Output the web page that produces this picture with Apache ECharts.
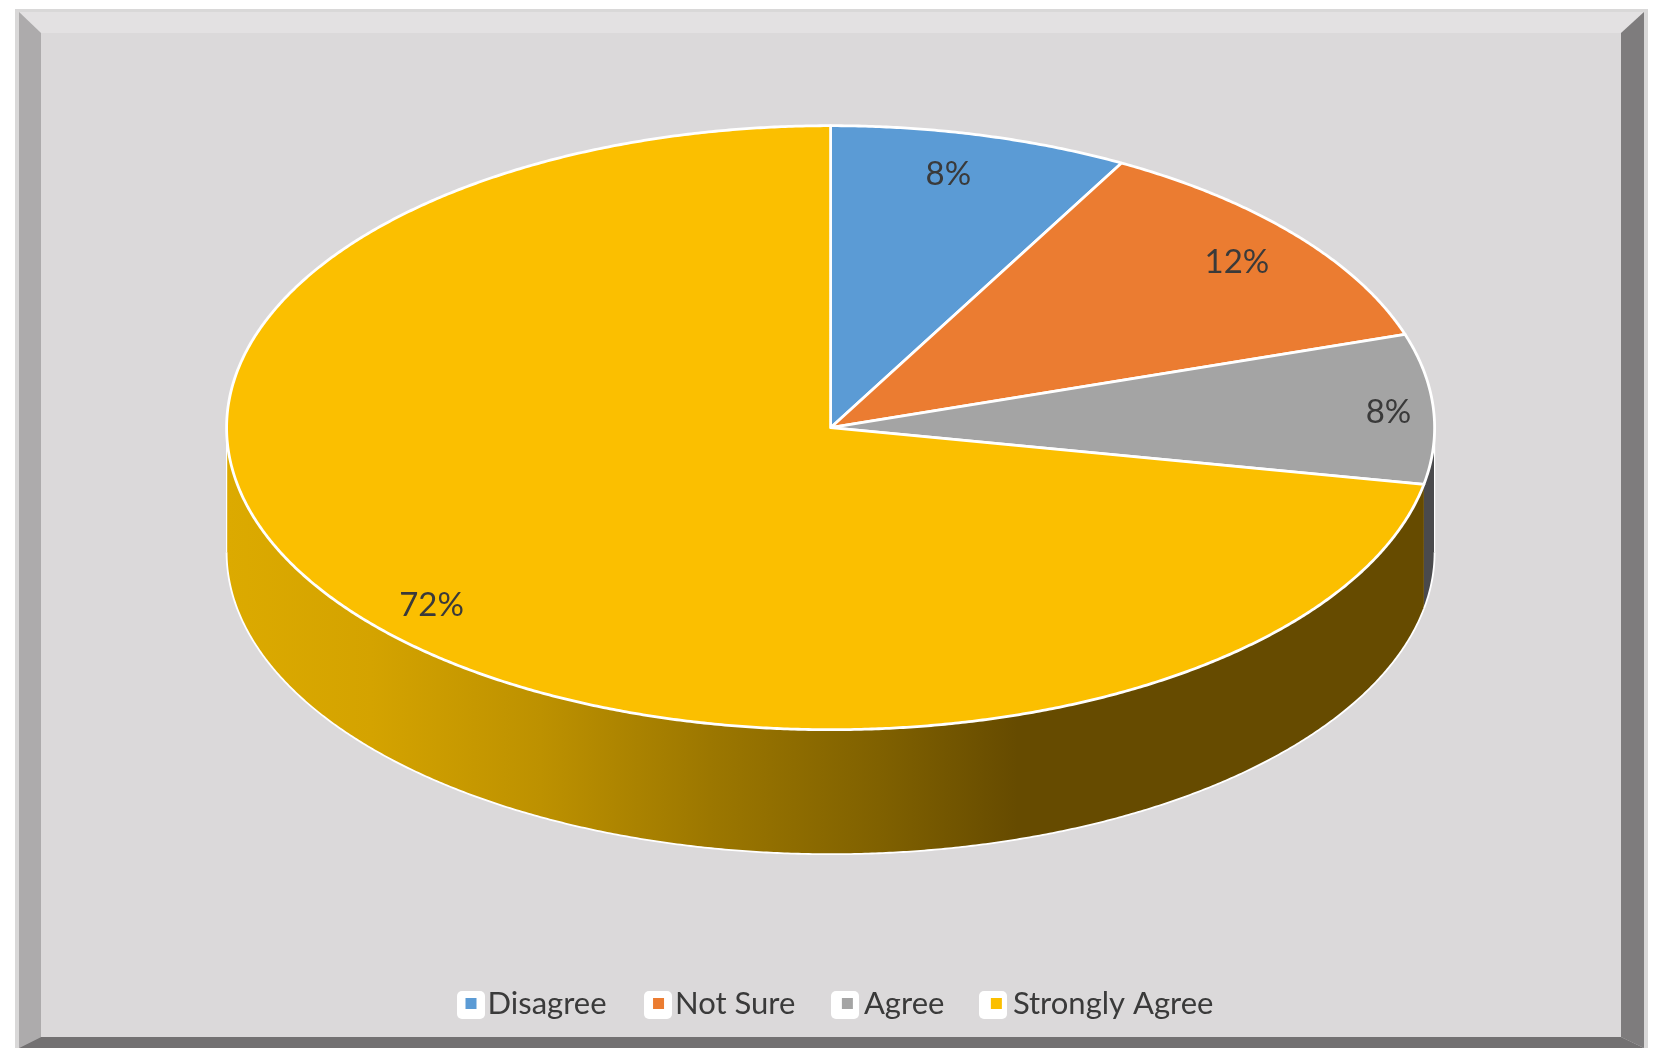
<!DOCTYPE html>
<html>
<head>
<meta charset="utf-8">
<style>html,body{margin:0;padding:0;background:#fff;overflow:hidden}#c{width:1654px;height:1048px}</style>
<script src="https://cdn.jsdelivr.net/npm/echarts@6/dist/echarts.min.js"></script>
</head>
<body>
<div id="c"></div>
<script>
const categories = ['Disagree', 'Not Sure', 'Agree', 'Strongly Agree'];
const shares = [8, 12, 8, 72];
const colours = ['#5b9bd5', '#eb7c31', '#a4a4a4', '#fbbf00'];

// Layout of the tilted pie, separate from the data
const CX = 830.6, CY = 427.7, RX = 604, RY = 302, DEPTH = 124.5;
const labelRadius = [0.86, 0.868, 0.925, 0.885];
const labelTurn = [-1.3, 0.4, 0.4, -2.1];
const wallShade = ['#dcaa00', '#4a4a4c', '#4a4a4c', '#dcaa00'];
const swatchLeft = [457, 644, 831, 979];
const total = shares.reduce((a, b) => a + b, 0);
const starts = shares.map((_, i) => shares.slice(0, i).reduce((a, b) => a + b, 0) / total * 360);

const pt = (deg, dy) => {
  const t = deg * Math.PI / 180;
  return [CX + RX * Math.sin(t), CY - RY * Math.cos(t) + (dy || 0)];
};
const arc = (a, b, dy) => {
  const n = Math.max(2, Math.ceil((b - a) * 3));
  const out = [];
  for (let i = 0; i <= n; i++) out.push(pt(a + (b - a) * i / n, dy));
  return out;
};
const yellowWall = new echarts.graphic.LinearGradient(227, 0, 1434, 0, [
  {offset: 0, color: '#dcaa00'},
  {offset: 0.12, color: '#d4a300'},
  {offset: 0.26, color: '#bd9100'},
  {offset: 0.40, color: '#9c7700'},
  {offset: 0.54, color: '#806100'},
  {offset: 0.655, color: '#664b00'},
  {offset: 1, color: '#664b00'}
], true);

function renderSlice(params, api) {
  const i = params.seriesIndex;
  const value = api.value(0);
  const a = starts[i], b = a + value / total * 360;
  const children = [];
  const wa = Math.max(a, 90), wb = Math.min(b, 270);
  if (wb > wa) {
    const top = arc(wa, wb, 0), bottom = arc(wa, wb, DEPTH).reverse();
    children.push({
      type: 'polygon', z2: 1,
      shape: {points: top.concat(bottom)},
      style: {fill: i === 3 ? yellowWall : wallShade[i], stroke: 'none'}
    });
    children.push({
      type: 'polyline', z2: 2,
      shape: {points: arc(wa, wb, DEPTH)},
      style: {fill: 'none', stroke: '#ffffff', lineWidth: 1.8}
    });
    if (a <= 270 && b >= 270) {
      children.push({
        type: 'polyline', z2: 2,
        shape: {points: [pt(270, 0), pt(270, DEPTH)]},
        style: {fill: 'none', stroke: '#ffffff', lineWidth: 1.2}
      });
    }
    if (a < 90 && b > 90) {
      children.push({
        type: 'polyline', z2: 2,
        shape: {points: [pt(90, 0), pt(90, DEPTH)]},
        style: {fill: 'none', stroke: '#ffffff', lineWidth: 1.2}
      });
    }
  }
  children.push({
    type: 'polygon', z2: 3,
    shape: {points: [[CX, CY]].concat(arc(a, b, 0))},
    style: {fill: colours[i], stroke: '#ffffff', lineWidth: 2.8, lineJoin: 'round'}
  });
  const mid = (a + b) / 2 + labelTurn[i];
  const t = mid * Math.PI / 180;
  children.push({
    type: 'text', z2: 5,
    style: {
      x: CX + RX * labelRadius[i] * Math.sin(t),
      y: CY - RY * labelRadius[i] * Math.cos(t),
      text: value + '%',
      fill: '#3a3a3a',
      font: '33px Lato, "Open Sans", sans-serif',
      align: 'center', verticalAlign: 'middle'
    }
  });
  return {type: 'group', children};
}

const bevel = (points, fill) => ({type: 'polygon', silent: true, shape: {points}, style: {fill}});
const chart = echarts.init(document.getElementById('c'), null, {renderer: 'canvas'});
chart.setOption({
  animation: false,
  backgroundColor: '#ffffff',
  graphic: {elements: [
    {type: 'rect', silent: true, shape: {x: 15, y: 9, width: 1633, height: 1039}, style: {fill: '#d9d8d8'}},
    bevel([[19, 12], [1644, 12], [1621, 33], [41, 33]], '#e3e1e2'),
    bevel([[19, 12], [41, 33], [41, 1037], [19, 1048]], '#adabac'),
    bevel([[1644, 12], [1644, 1048], [1621, 1037], [1621, 33]], '#7e7c7d'),
    bevel([[19, 1048], [41, 1037], [1621, 1037], [1644, 1048]], '#737172'),
    {type: 'rect', silent: true, shape: {x: 41, y: 33, width: 1580, height: 1004}, style: {fill: '#dbd9da'}}
  ].concat(swatchLeft.map(x => ({
    type: 'rect', silent: true, shape: {x, y: 991, width: 28, height: 28, r: 5}, style: {fill: '#ffffff'}
  }))).map(e => Object.assign({z: -5}, e))},
  legend: {
    left: 465.5,
    top: 988,
    padding: 0,
    orient: 'horizontal',
    icon: 'rect',
    itemWidth: 11,
    itemHeight: 11,
    itemGap: 46.5,
    data: categories,
    selectedMode: false,
    textStyle: {color: '#3a3a3a', fontFamily: 'Lato, "Open Sans", sans-serif', fontSize: 31, padding: [0, 0, 0, 6]}
  },
  series: categories.map((name, i) => ({
    type: 'custom',
    name,
    coordinateSystem: 'none',
    renderItem: renderSlice,
    itemStyle: {color: colours[i]},
    data: [[shares[i]]]
  }))
});
</script>
</body>
</html>
